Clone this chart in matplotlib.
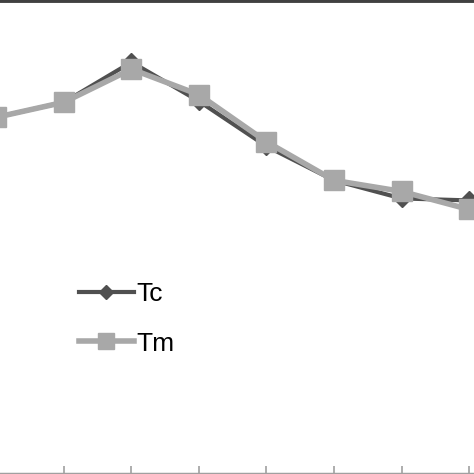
import matplotlib
matplotlib.use("Agg")
import matplotlib.pyplot as plt

# data (index positions of categories, arbitrary units)
x_idx = [0, 1, 2, 3, 4, 5, 6, 7]
tc = [35.6, 37.1, 41.1, 37.2, 32.7, 29.3, 27.5, 27.3]
tm = [35.6, 37.1, 40.4, 37.85, 33.15, 29.3, 28.2, 26.4]
tick_pos = [1, 2, 3, 4, 5, 6, 7]

plt.rcParams['font.family'] = ['Liberation Sans', 'DejaVu Sans']

fig = plt.figure(figsize=(4.74, 4.74), dpi=100)
ax = fig.add_axes([0, 0, 1, 1])

ax.plot(x_idx, tc, color='#505050', lw=3.0, marker='D', ms=9,
        mfc='#505050', mec='#505050', label='Tc', zorder=3)
ax.plot(x_idx, tm, color='#a8a8a8', lw=4.0, marker='s', ms=15,
        mfc='#a8a8a8', mec='#a8a8a8', label='Tm', zorder=4)

ax.set_xlim(0.052, 7.074)
ax.set_ylim(0, 47.3)

ax.set_xticks(tick_pos)
ax.set_xticklabels([])
ax.set_yticks([])
ax.tick_params(axis='x', direction='in', length=6, width=1.2, color='#a0a0a0')

for s in ['left', 'right']:
    ax.spines[s].set_visible(False)
ax.spines['top'].set_color('#404040')
ax.spines['top'].set_linewidth(3.5)
ax.spines['bottom'].set_color('#a0a0a0')
ax.spines['bottom'].set_linewidth(2.5)

leg = ax.legend(loc='upper left', bbox_to_anchor=(0.116, 0.455),
                bbox_transform=fig.transFigure, frameon=False,
                fontsize=19, handlelength=2.08, handletextpad=0.11,
                labelspacing=0.97, markerscale=0.8)

fig.savefig('out.png', dpi=100)
